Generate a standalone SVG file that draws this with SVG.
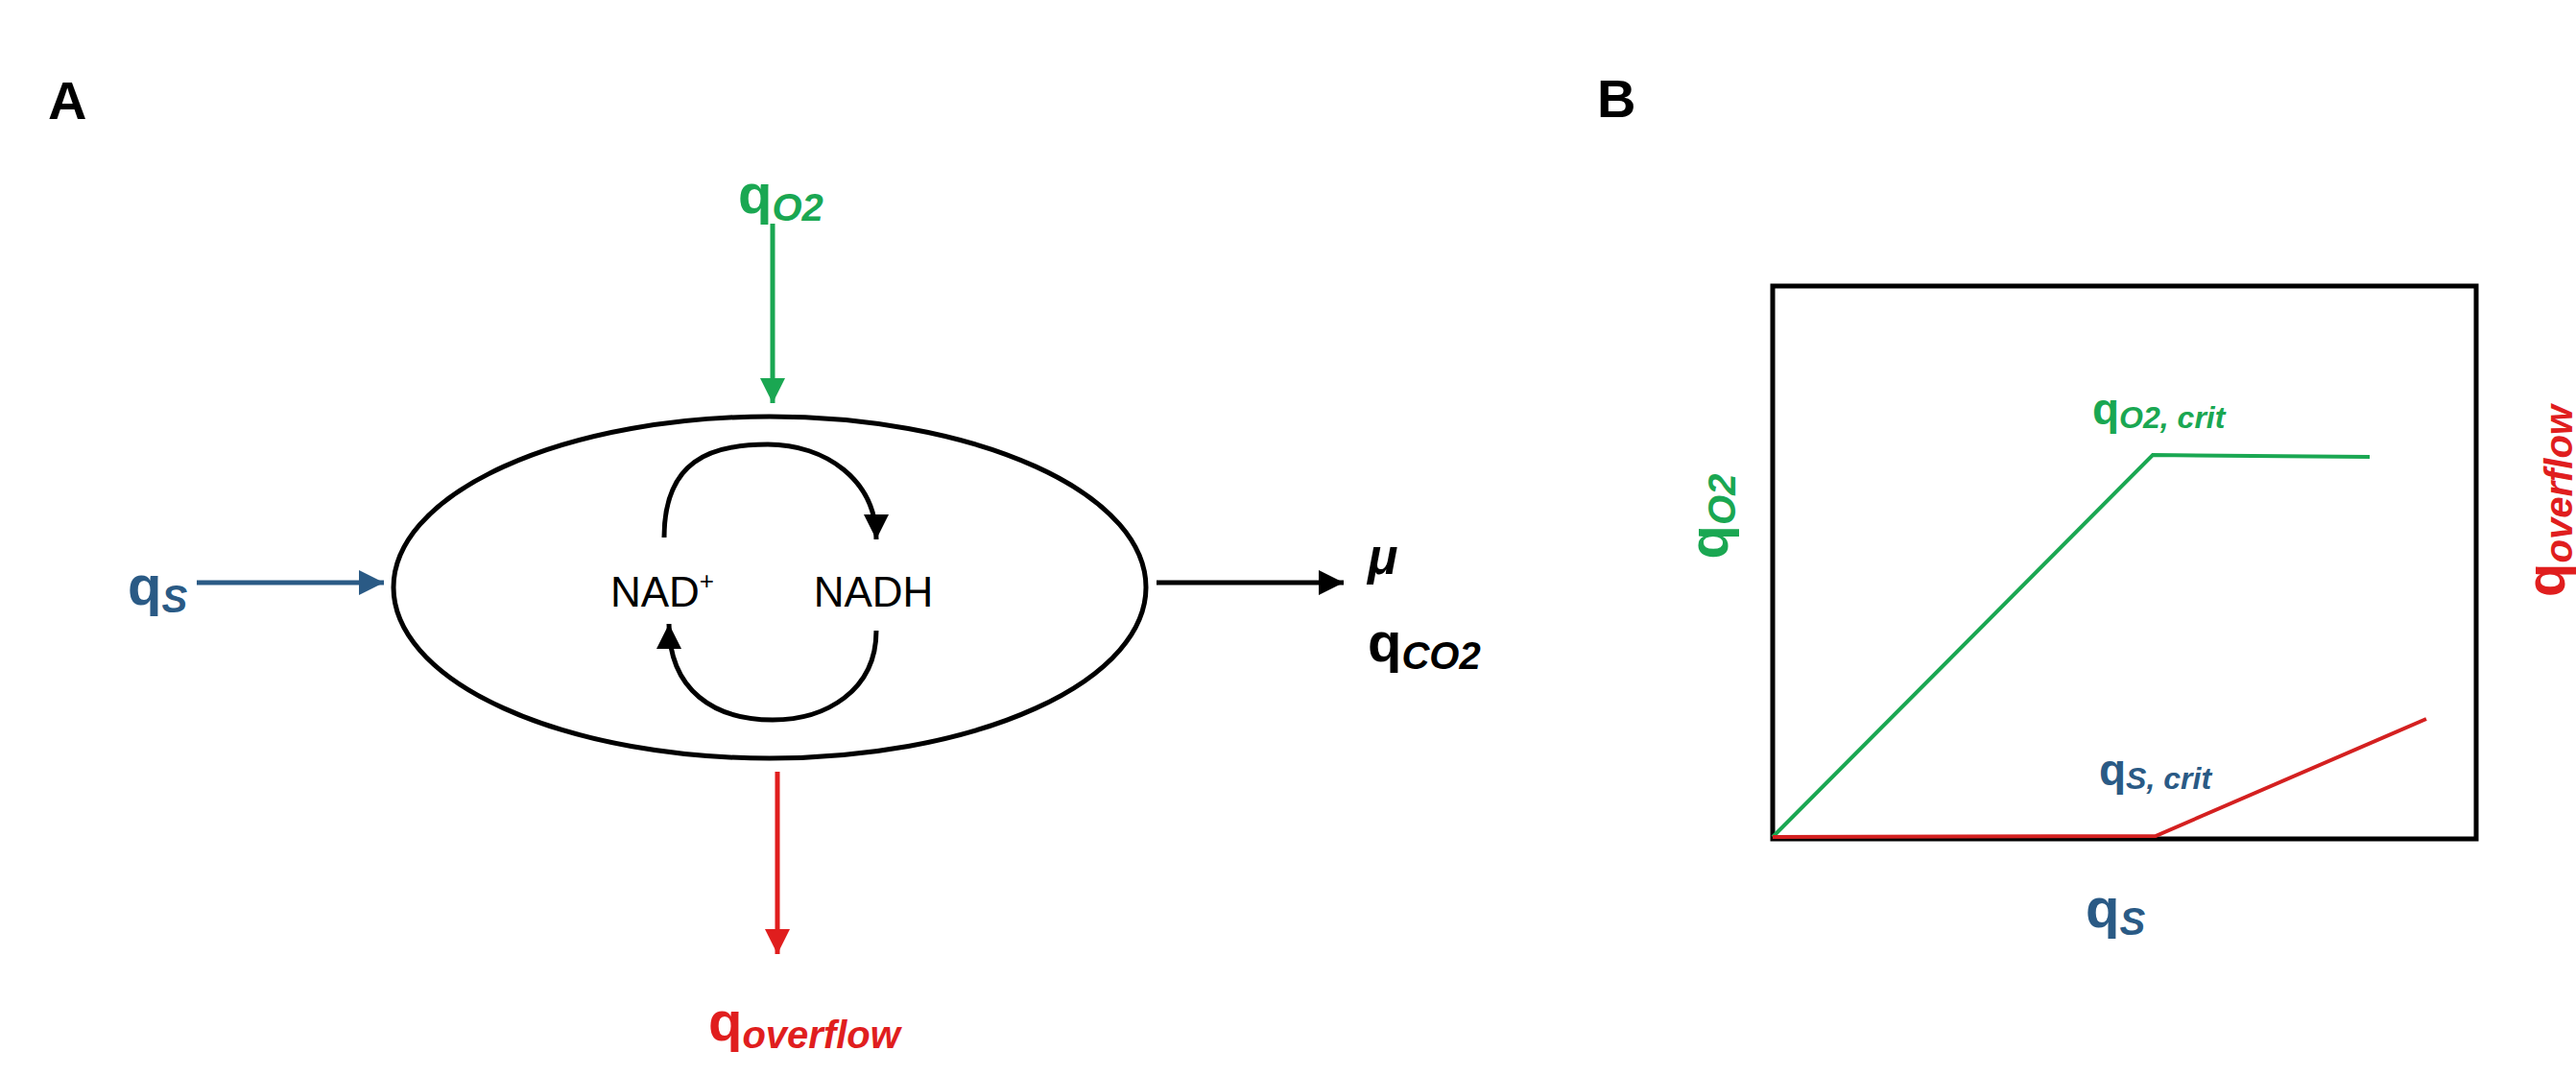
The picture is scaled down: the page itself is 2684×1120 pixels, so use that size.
<svg xmlns="http://www.w3.org/2000/svg" width="2684" height="1120" viewBox="0 0 2684 1120">
<style>
text{font-family:"Liberation Sans","Arial",sans-serif}
.lbl{font-size:58px;font-weight:bold}
.sub{font-size:40px;font-style:italic;font-weight:bold}
.g{fill:#1aa752}.b{fill:#2a5a85}.r{fill:#e01e1e}.k{fill:#000}
.panel{font-size:56px;font-weight:bold}
</style>
<defs>
<marker id="ag" viewBox="0 0 10 10" refX="9" refY="5" markerWidth="5" markerHeight="5" orient="auto" markerUnits="userSpaceOnUse" style="overflow:visible"><path d="M0,0L10,5L0,10z" fill="#1aa752" transform="scale(2.6)"/></marker>
<marker id="ab" viewBox="0 0 10 10" refX="10" refY="5" markerWidth="26" markerHeight="26" orient="auto" markerUnits="userSpaceOnUse"><path d="M0,0L10,5L0,10z" fill="#2a5a85"/></marker>
<marker id="ar" viewBox="0 0 10 10" refX="10" refY="5" markerWidth="26" markerHeight="26" orient="auto" markerUnits="userSpaceOnUse"><path d="M0,0L10,5L0,10z" fill="#e01e1e"/></marker>
<marker id="ak" viewBox="0 0 10 10" refX="10" refY="5" markerWidth="26" markerHeight="26" orient="auto" markerUnits="userSpaceOnUse"><path d="M0,0L10,5L0,10z" fill="#000"/></marker>
<marker id="ag2" viewBox="0 0 10 10" refX="10" refY="5" markerWidth="26" markerHeight="26" orient="auto" markerUnits="userSpaceOnUse"><path d="M0,0L10,5L0,10z" fill="#1aa752"/></marker>
</defs>
<text class="panel k" x="50" y="124">A</text>
<text class="panel k" x="1664" y="122">B</text>
<g id="cell">
<ellipse cx="802" cy="612" rx="392" ry="178" fill="none" stroke="#000" stroke-width="5"/>
<text x="690" y="632" font-size="44" text-anchor="middle">NAD<tspan font-size="26" dy="-18">+</tspan></text>
<text x="910" y="632" font-size="44" text-anchor="middle">NADH</text>
</g>
<g id="connectors" fill="none" stroke-width="5">
<path d="M692,560 C692,480 740,463 800,463 C860,463 913,500 913,562" stroke="#000" marker-end="url(#ak)"/>
<path d="M913,657 C913,720 860,750 805,750 C745,750 697,720 697,650" stroke="#000" marker-end="url(#ak)"/>
<line x1="805" y1="233" x2="805" y2="420" stroke="#1aa752" marker-end="url(#ag2)"/>
<line x1="205" y1="607" x2="400" y2="607" stroke="#2a5a85" marker-end="url(#ab)"/>
<line x1="1205" y1="607" x2="1400" y2="607" stroke="#000" marker-end="url(#ak)"/>
<line x1="810" y1="804" x2="810" y2="994" stroke="#e01e1e" marker-end="url(#ar)"/>
</g>
<g id="labels-a">
<text class="lbl g" x="769" y="222">q<tspan class="sub" dy="8">O2</tspan></text>
<text class="lbl b" x="133" y="630">q<tspan class="sub" dy="8">S</tspan></text>
<text class="k" x="1425" y="598" font-size="52" font-style="italic" font-weight="bold">μ</text>
<text class="lbl k" x="1425" y="689">q<tspan class="sub" dy="8">CO2</tspan></text>
<text class="lbl r" x="738" y="1084">q<tspan class="sub" dy="8">overflow</tspan></text>
</g>
<g id="graph">
<rect x="1847" y="298" width="733" height="576" fill="none" stroke="#000" stroke-width="5"/>
<polyline points="1847,872 2243,474 2469,476" fill="none" stroke="#1aa752" stroke-width="4"/>
<polyline points="1847,872 2246,871 2528,749" fill="none" stroke="#d42020" stroke-width="4"/>
<text class="g" x="2180" y="442" font-size="46" font-weight="bold">q<tspan font-size="32" font-style="italic" dy="4">O2, crit</tspan></text>
<text class="b" x="2187" y="818" font-size="46" font-weight="bold">q<tspan font-size="32" font-style="italic" dy="4">S, crit</tspan></text>
<text class="lbl g" transform="translate(1800,538) rotate(-90)" text-anchor="middle">q<tspan class="sub" dy="8">O2</tspan></text>
<text class="lbl r" transform="translate(2672,522) rotate(-90)" text-anchor="middle">q<tspan class="sub" dy="8">overflow</tspan></text>
<text class="lbl b" x="2173" y="966">q<tspan class="sub" dy="8">S</tspan></text>
</g>
</svg>
